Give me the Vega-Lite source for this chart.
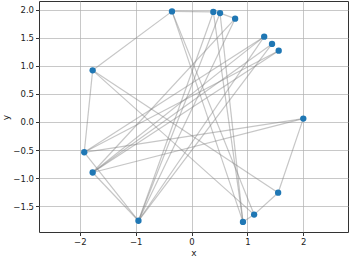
{
  "$schema": "https://vega.github.io/schema/vega-lite/v6.json",
  "width": 309,
  "height": 231,
  "autosize": {"type": "none"},
  "padding": {"left": 39, "top": 1, "right": 2, "bottom": 25},
  "background": "white",
  "config": {
    "view": {"stroke": "#333", "strokeWidth": 1},
    "font": "DejaVu Sans",
    "axis": {
      "labelFont": "DejaVu Sans", "labelFontSize": 8.5, "labelColor": "#222", "labelOverlap": false,
      "titleFont": "DejaVu Sans", "titleFontSize": 9, "titleFontWeight": "normal", "titleColor": "#222",
      "gridColor": "#b0b0b0", "gridOpacity": 0.7, "gridWidth": 1,
      "domain": false, "tickColor": "#333", "tickSize": 3.5, "labelPadding": 2
    }
  },
  "datasets": {
    "nodes": [
      {"id": 1, "x": -1.77, "y": 0.92},
      {"id": 2, "x": -0.35, "y": 1.97},
      {"id": 3, "x": 0.39, "y": 1.96},
      {"id": 4, "x": 0.51, "y": 1.94},
      {"id": 5, "x": 0.78, "y": 1.84},
      {"id": 6, "x": 1.30, "y": 1.52},
      {"id": 7, "x": 1.44, "y": 1.39},
      {"id": 8, "x": 1.56, "y": 1.27},
      {"id": 9, "x": 2.00, "y": 0.06},
      {"id": 10, "x": -1.92, "y": -0.54},
      {"id": 11, "x": -1.77, "y": -0.90},
      {"id": 12, "x": -0.95, "y": -1.76},
      {"id": 13, "x": 0.92, "y": -1.78},
      {"id": 14, "x": 1.12, "y": -1.65},
      {"id": 15, "x": 1.55, "y": -1.26}
    ],
    "edges": [
      {"s": 1, "t": 2}, {"s": 1, "t": 10}, {"s": 1, "t": 14}, {"s": 1, "t": 15},
      {"s": 2, "t": 3}, {"s": 2, "t": 13}, {"s": 2, "t": 14},
      {"s": 3, "t": 12}, {"s": 3, "t": 13},
      {"s": 4, "t": 5}, {"s": 4, "t": 12}, {"s": 4, "t": 13},
      {"s": 5, "t": 12}, {"s": 5, "t": 11},
      {"s": 6, "t": 10}, {"s": 6, "t": 11}, {"s": 6, "t": 12},
      {"s": 7, "t": 11}, {"s": 7, "t": 12},
      {"s": 8, "t": 10}, {"s": 8, "t": 11},
      {"s": 9, "t": 10}, {"s": 9, "t": 11}, {"s": 9, "t": 15},
      {"s": 10, "t": 12}, {"s": 11, "t": 12},
      {"s": 13, "t": 14}, {"s": 14, "t": 15}
    ]
  },
  "encoding": {
    "x": {"field": "x", "type": "quantitative", "title": "x",
          "scale": {"domain": [-2.73, 2.8], "nice": false, "zero": false},
          "axis": {"values": [-2, -1, 0, 1, 2], "format": "d", "titlePadding": 2, "labelOverlap": false}},
    "y": {"field": "y", "type": "quantitative", "title": "y",
          "scale": {"domain": [-1.96, 2.155], "nice": false, "zero": false},
          "axis": {"values": [-1.5, -1, -0.5, 0, 0.5, 1, 1.5, 2], "format": ".1f", "labelOverlap": false,
                   "titleX": -29, "titleY": 116, "titleBaseline": "bottom", "titleAlign": "center", "titleAngle": -90}}
  },
  "layer": [
    {
      "data": {"name": "edges"},
      "transform": [
        {"lookup": "s", "from": {"data": {"name": "nodes"}, "key": "id", "fields": ["x", "y"]}},
        {"lookup": "t", "from": {"data": {"name": "nodes"}, "key": "id", "fields": ["x", "y"]}, "as": ["x2", "y2"]}
      ],
      "mark": {"type": "rule", "color": "#808080", "opacity": 0.45, "strokeWidth": 1.2},
      "encoding": {
        "x2": {"field": "x2"},
        "y2": {"field": "y2"}
      }
    },
    {
      "data": {"name": "nodes"},
      "mark": {"type": "circle", "color": "#1f77b4", "opacity": 1, "size": 40},
      "encoding": {}
    }
  ]
}
